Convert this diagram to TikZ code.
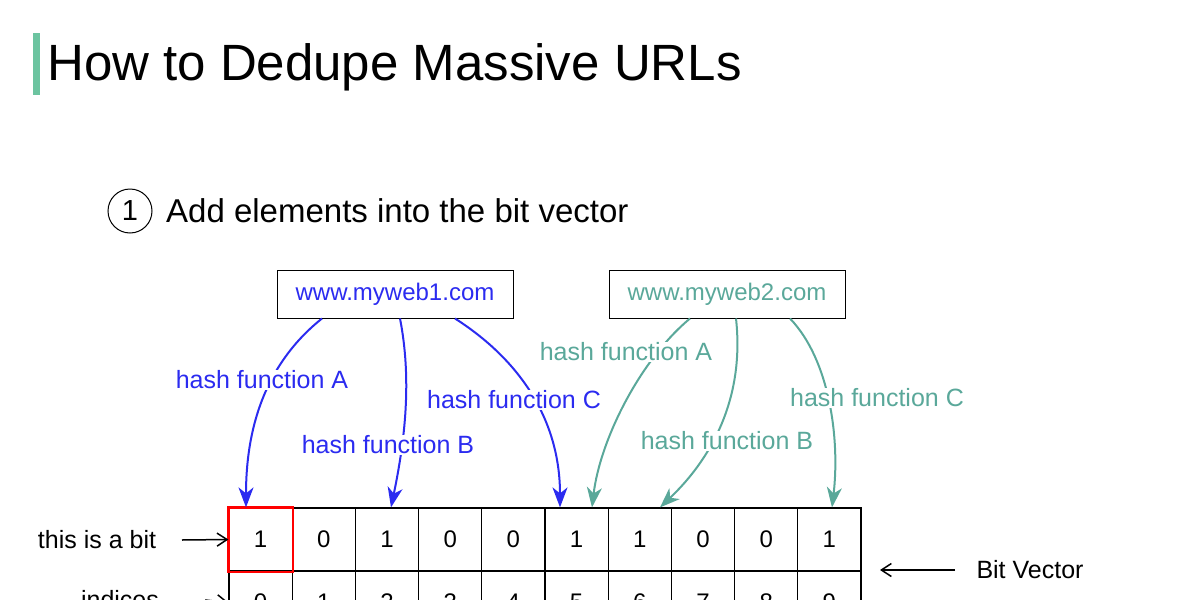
\documentclass[tikz,border=0pt]{standalone}
\usepackage{fontspec}
\setmainfont{Liberation Sans}
\usetikzlibrary{arrows.meta}
\definecolor{bl}{HTML}{2B2BF0}
\definecolor{gr}{HTML}{5AA89A}
\definecolor{acc}{HTML}{6CC4A0}
\tikzset{
  cell/.style={draw,line width=1.2pt,minimum width=63.2pt,minimum height=63pt,inner sep=0pt,font=\fontsize{24}{26}\selectfont},
  url/.style={draw,line width=1pt,minimum width=236pt,minimum height=48pt,font=\fontsize{24}{26}\selectfont},
  lab/.style={font=\fontsize{25}{27}\selectfont},
  harr/.style={line width=2pt,-{Stealth[length=20pt,width=15pt,inset=6pt]}},
  blk/.style={line width=1.5pt,-{Straight Barb[length=10pt,width=13pt]}}
}
\begin{document}
\begin{tikzpicture}[x=1pt,y=-1pt]
\useasboundingbox (0,0) rectangle (1200,600);
\fill[acc] (33,33) rectangle (40,95);
\node[anchor=base west,font=\fontsize{51}{54}\selectfont,inner sep=0] (title) at (47,80) {How to Dedupe Massive URLs};
\node[draw,circle,line width=1pt,minimum size=44pt,inner sep=0,font=\fontsize{29}{30}\selectfont] (one) at (130,211) {1};
\node[anchor=west,font=\fontsize{33}{35}\selectfont,inner sep=0] (sub) at (166,211) {Add elements into the bit vector};
\node[url,text=bl] (u1) at (395,294) {www.myweb1.com};
\node[url,text=gr] (u2) at (727,294) {www.myweb2.com};
\foreach \v [count=\i from 0] in {1,0,1,0,0,1,1,0,0,1}{
  \node[cell] (b\i) at ({260.6+63.2*\i},539.5) {\v};
  \node[cell] (i\i) at ({260.6+63.2*\i},602.5) {\i};
}
\draw[red,line width=2.2pt] (b0.north west) rectangle (b0.south east);
\node[lab] (bit) at (97,540) {this is a bit};
\draw[blk] (182,540) coordinate (bs) -- (b0.west);
\node[lab] (ind) at (120,600) {indices};
\draw[blk] (205,600) coordinate (is) -- (i0.west);
\node[lab] (bv) at (1030,570) {Bit Vector};
\draw[blk] (955,570) coordinate (vs) -- (880,570) coordinate (ve);
% blue
\draw[bl,harr] (u1.south -| 322,0) .. controls (270,360) and (246,420) .. (b0.north -| 246,0);
\draw[bl,harr] (u1.south -| 400,0) .. controls (412,380) and (405,440) .. (b2.north -| 391,0);
\draw[bl,harr] (u1.south -| 455,0) .. controls (520,360) and (560,420) .. (b5.north -| 560,0);
\node[lab,text=bl,fill=white,inner sep=1pt] (ha1) at (262,380) {hash function A};
\node[lab,text=bl,fill=white,inner sep=1pt] (hb1) at (388,445) {hash function B};
\node[lab,text=bl,fill=white,inner sep=1pt] (hc1) at (514,400) {hash function C};
% green
\draw[gr,harr] (u2.south -| 690,0) .. controls (640,360) and (600,440) .. (b5.north east -| 592,0);
\draw[gr,harr] (u2.south -| 736,0) .. controls (745,400) and (710,460) .. (b6.north -| 660,0);
\draw[gr,harr] (u2.south -| 790,0) .. controls (830,360) and (840,440) .. (b9.north -| 832,0);
\node[lab,text=gr,fill=white,inner sep=1pt] (ha2) at (626,352) {hash function A};
\node[lab,text=gr,fill=white,inner sep=1pt] (hb2) at (727,441) {hash function B};
\node[lab,text=gr,fill=white,inner sep=1pt] (hc2) at (877,398) {hash function C};
\end{tikzpicture}
\end{document}
